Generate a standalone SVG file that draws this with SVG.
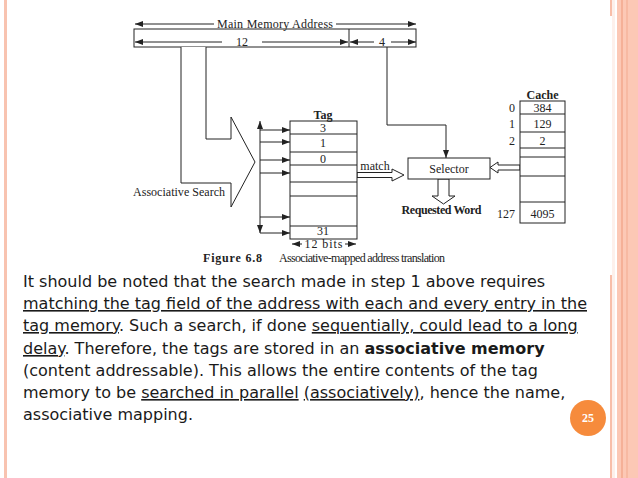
<svg xmlns="http://www.w3.org/2000/svg" width="638" height="478" viewBox="0 0 638 478">
<style>
.ln{stroke:#222;stroke-width:1;fill:none}
.box{stroke:#222;stroke-width:1;fill:#fff}
.lb{font-family:"Liberation Serif","Times New Roman",serif;font-size:12px;fill:#222;text-anchor:middle}
.bd{font-weight:bold}
.para{font-family:"DejaVu Sans",Verdana,sans-serif;font-size:16px;fill:#1a1a1a}
.u{text-decoration:underline}
</style>
<defs>
<marker id="ah" viewBox="0 0 8 6" refX="8" refY="3" markerWidth="8" markerHeight="6" orient="auto-start-reverse" markerUnits="userSpaceOnUse"><path d="M0,0 L8,3 L0,6 z" fill="#222"/></marker>
</defs>
<rect width="638" height="478" fill="#fff"/>
<g id="decor">
<rect x="4" y="0" width="3" height="478" fill="#f8c3b0"/>
<rect x="617" y="0" width="21" height="478" fill="#fcc8b5"/>
<rect x="621" y="0" width="2" height="478" fill="#f5b097"/>
<rect x="626" y="0" width="2" height="478" fill="#f7b9a2"/>
<rect x="610" y="0" width="2" height="16" fill="#f8bea9"/>
<rect x="610" y="275" width="2" height="203" fill="#f8bea9"/>
<rect x="612" y="0" width="3" height="478" fill="#fdf0eb"/>
</g>
<g id="connectors">
<line class="ln" x1="135" y1="24" x2="214" y2="24" marker-start="url(#ah)"/>
<line class="ln" x1="336" y1="24" x2="416" y2="24" marker-end="url(#ah)"/>
<line class="ln" x1="135" y1="42" x2="222" y2="42" marker-start="url(#ah)"/>
<line class="ln" x1="262" y1="42" x2="348" y2="42" marker-end="url(#ah)"/>
<line class="ln" x1="350" y1="42" x2="374" y2="42" marker-start="url(#ah)"/>
<line class="ln" x1="391" y1="42" x2="416" y2="42" marker-end="url(#ah)"/>
<line class="ln" x1="260" y1="121" x2="260" y2="233" marker-start="url(#ah)" marker-end="url(#ah)"/>
<line class="ln" x1="260" y1="130" x2="290" y2="130" marker-end="url(#ah)"/>
<line class="ln" x1="260" y1="142" x2="290" y2="142" marker-end="url(#ah)"/>
<line class="ln" x1="260" y1="160" x2="290" y2="160" marker-end="url(#ah)"/>
<line class="ln" x1="260" y1="173" x2="290" y2="173" marker-end="url(#ah)"/>
<line class="ln" x1="260" y1="217" x2="290" y2="217" marker-end="url(#ah)"/>
<line class="ln" x1="260" y1="233" x2="290" y2="233" marker-end="url(#ah)"/>
<line class="ln" x1="292" y1="244" x2="302" y2="244" marker-start="url(#ah)"/>
<line class="ln" x1="345" y1="244" x2="356" y2="244" marker-end="url(#ah)"/>
<path class="ln" d="M387,47 V125 H446 V158" marker-end="url(#ah)"/>
<polygon class="box" points="357,172.5 392,172.5 392,169 404,175 392,181 392,177.5 357,177.5"/>
<polygon class="box" points="438,179 438,196 432,196 443.5,204 455,196 449,196 449,179"/>
<polygon class="box" points="520,165 498,165 498,162 490,167.5 498,173 498,170 520,170"/>
</g>
<g id="address">
<text class="lb" x="275" y="27.5" font-size="12.5" textLength="116" lengthAdjust="spacing">Main Memory Address</text>
<rect class="ln" x="134" y="29" width="282" height="18"/>
<line class="ln" x1="349" y1="29" x2="349" y2="47"/>
<text class="lb" x="242" y="46" font-size="12.5">12</text>
<text class="lb" x="382" y="46" font-size="12.5">4</text>
</g>
<g id="search">
<polyline class="box" points="181,47 181,183 231,183 231,207 255,162 231,117 231,139 206,139 206,47"/>
<text class="lb" x="133" y="196" style="text-anchor:start" textLength="92" lengthAdjust="spacing">Associative Search</text>
</g>
<g id="tag">
<rect class="box" x="290" y="121" width="67" height="118"/>
<path class="ln" d="M290,134H357M290,152H357M290,165H357M290,182H357M290,196H357M290,226H357"/>
<text class="lb bd" x="323" y="119">Tag</text>
<text class="lb" x="323" y="132">3</text>
<text class="lb" x="323" y="147">1</text>
<text class="lb" x="323" y="162.5">0</text>
<text class="lb" x="323" y="235" font-size="10.5">31</text>
<text class="lb" x="323.5" y="247.8" font-size="9.5" textLength="38" lengthAdjust="spacing">12 bits</text>
<text class="lb" x="375" y="170">match</text>
</g>
<g id="selector">
<rect class="box" x="408" y="158" width="82" height="21"/>
<text class="lb" x="449" y="173">Selector</text>
<text class="lb bd" x="441.5" y="214" font-size="11" textLength="80" lengthAdjust="spacing">Requested Word</text>
</g>
<g id="cache">
<rect class="box" x="520" y="101" width="45" height="122"/>
<path class="ln" d="M520,114H565M520,132H565M520,148H565M520,157H565M520,176H565M520,202H565"/>
<text class="lb bd" x="542.5" y="99">Cache</text>
<text class="lb" x="542.5" y="111.5">384</text>
<text class="lb" x="542.5" y="128">129</text>
<text class="lb" x="542.5" y="145">2</text>
<text class="lb" x="542.5" y="217.5">4095</text>
<text class="lb" x="512" y="111.5">0</text>
<text class="lb" x="512" y="128">1</text>
<text class="lb" x="512" y="145">2</text>
<text class="lb" x="506" y="217.5">127</text>
</g>
<g id="caption">
<text class="lb bd" x="203" y="261.5" font-size="13" style="text-anchor:start" textLength="59" lengthAdjust="spacing">Figure 6.8</text>
<text class="lb" x="279" y="261.5" font-size="10.3" style="text-anchor:start" textLength="166" lengthAdjust="spacing">Associative-mapped address translation</text>
</g>
<g id="paragraph" class="para">
<text x="23" y="287">It should be noted that the search made in step 1 above requires</text>
<text x="23" y="309"><tspan class="u">matching the tag field of the address with each and every entry in the</tspan></text>
<text x="23" y="331"><tspan class="u">tag memory</tspan>. Such a search, if done <tspan class="u">sequentially, could lead to a long</tspan></text>
<text x="23" y="354"><tspan class="u">delay</tspan>. Therefore, the tags are stored in an <tspan font-weight="bold">associative memory</tspan></text>
<text x="23" y="376">(content addressable). This allows the entire contents of the tag</text>
<text x="23" y="398">memory to be <tspan class="u">searched in parallel</tspan> <tspan class="u">(associatively)</tspan>, hence the name,</text>
<text x="23" y="420">associative mapping.</text>
</g>
<g id="page">
<circle cx="588" cy="418" r="18" fill="#f68b3c"/>
<text x="588" y="422" font-family="Liberation Serif,serif" font-weight="bold" font-size="12" fill="#fff" text-anchor="middle">25</text>
</g>
</svg>
